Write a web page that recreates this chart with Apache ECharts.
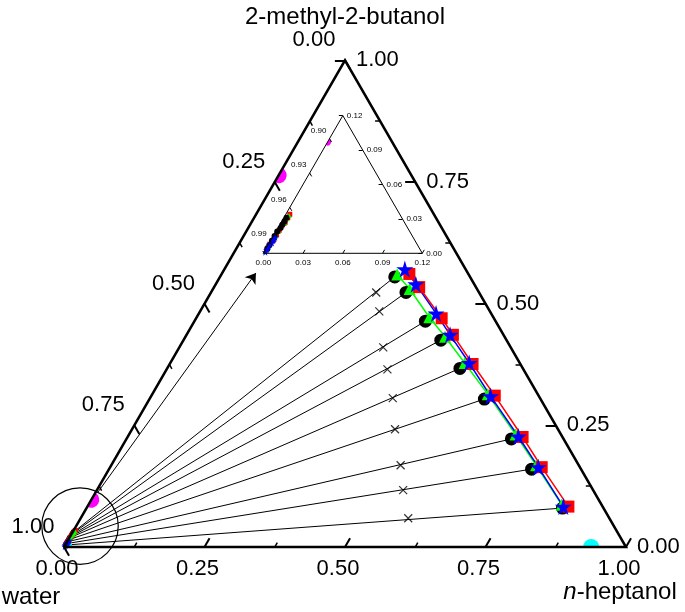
<!DOCTYPE html>
<html>
<head>
<meta charset="utf-8">
<script src="https://cdn.jsdelivr.net/npm/echarts@6/dist/echarts.min.js"></script>
<style>
  html, body { margin: 0; padding: 0; background: #fff; }
  #chart { width: 685px; height: 612px; }
</style>
</head>
<body>
<div id="chart"></div>
<script>
const S = Math.sqrt(3) / 2;
const FONT = '"Liberation Sans", Arial, sans-serif';

// compositions as [n-heptanol, 2-methyl-2-butanol] fractions (water = rest)
// experimental organic phase (black circles)
const orgHept = [0.311, 0.347, 0.411, 0.458, 0.521, 0.596, 0.685, 0.752, 0.847];
const orgAlc  = [0.555, 0.523, 0.464, 0.425, 0.367, 0.304, 0.222, 0.160, 0.080];
// experimental aqueous phase
const aqHept = [0.002, 0.002, 0.002, 0.002, 0.001, 0.001, 0.001, 0.001, 0.001];
const aqAlc  = [0.031, 0.028, 0.025, 0.022, 0.019, 0.015, 0.011, 0.007, 0.004];
// feed points (crosses)
const feedHept = [0.294, 0.319, 0.363, 0.393, 0.432, 0.468, 0.515, 0.545, 0.583];
const feedAlc  = [0.523, 0.484, 0.410, 0.365, 0.306, 0.242, 0.168, 0.117, 0.059];

// model results
const redOrgHept   = [0.334, 0.365, 0.437, 0.474, 0.539, 0.611, 0.703, 0.768, 0.856];
const redOrgAlc    = [0.561, 0.534, 0.470, 0.436, 0.376, 0.311, 0.226, 0.164, 0.083];
const greenOrgHept = [0.313, 0.350, 0.414, 0.462, 0.524, 0.597, 0.688, 0.756, 0.842];
const greenOrgAlc  = [0.560, 0.530, 0.472, 0.432, 0.378, 0.314, 0.231, 0.168, 0.087];
const blueOrgHept  = [0.321, 0.356, 0.422, 0.469, 0.532, 0.604, 0.695, 0.762, 0.847];
const blueOrgAlc   = [0.571, 0.540, 0.480, 0.436, 0.378, 0.310, 0.227, 0.164, 0.083];

const redAqHept   = [0.003, 0.003, 0.003, 0.002, 0.002, 0.002, 0.002, 0.001, 0.001];
const redAqAlc    = [0.034, 0.031, 0.027, 0.024, 0.020, 0.016, 0.012, 0.008, 0.004];
const greenAqHept = [0.003, 0.003, 0.003, 0.002, 0.002, 0.002, 0.001, 0.001, 0.001];
const greenAqAlc  = [0.033, 0.030, 0.026, 0.023, 0.019, 0.015, 0.011, 0.007, 0.003];
const blueAqHept  = [0.002, 0.002, 0.002, 0.002, 0.001, 0.001, 0.001, 0.001, 0.001];
const blueAqAlc   = [0.014, 0.012, 0.011, 0.009, 0.008, 0.006, 0.004, 0.003, 0.001];

// binary solubility points
const magHept = [0, 0];
const magAlc  = [0.097, 0.764];
const cyanHept = [0.938];
const cyanAlc  = [0];
const cyanCornerHept = [0.0005];
const cyanCornerAlc  = [0];

// tick labels
const mainTickVals = [0, 0.25, 0.5, 0.75, 1];
const mainTickLabels = ['0.00', '0.25', '0.50', '0.75', '1.00'];
const mainMinorVals = [0.125, 0.375, 0.625, 0.875];
const insetVals = [0, 0.03, 0.06, 0.09, 0.12];
const insetLabels = ['0.00', '0.03', '0.06', '0.09', '0.12'];
const insetWaterVals = [0.90, 0.93, 0.96, 0.99];
const insetWaterLabels = ['0.90', '0.93', '0.96', '0.99'];

// annotation circle and arrow (ternary coords)
const zoomCircle = { h: 0.007, a: 0.043, r: 0.068 };
const arrowFrom = [0.004, 0.113];
const arrowTo = [0.060, 0.563];

const tern = (h, a) => [h + a / 2, a * S];
const pts = (H, A) => H.map((h, i) => tern(h, A[i]));
const STAR = 'path://M50,0L61,35L98,35L68,57L79,91L50,70L21,91L32,57L2,35L39,35Z';
const CROSS = 'path://M0,0L10,10M10,0L0,10';

function frame(gi, side, width) {
  return {
    type: 'line', xAxisIndex: gi, yAxisIndex: gi, clip: false, silent: true, z: 10,
    data: [tern(0, 0), tern(side, 0), tern(0, side), tern(0, 0)],
    symbol: 'none', lineStyle: { color: '#000', width: width, join: 'miter' }
  };
}

function tickSeries(gi, segs, width) {
  return {
    type: 'lines', coordinateSystem: 'cartesian2d', xAxisIndex: gi, yAxisIndex: gi,
    clip: false, silent: true, z: 10,
    data: segs.map(c => ({ coords: c })),
    lineStyle: { color: '#000', width: width, opacity: 1, curveness: 0 }
  };
}

function labelSeries(gi, items, size) {
  return {
    type: 'custom', xAxisIndex: gi, yAxisIndex: gi, silent: true, z: 20,
    data: items.map(it => it.p),
    renderItem: (params, api) => {
      const it = items[params.dataIndex];
      const c = api.coord(it.p);
      return {
        type: 'text', x: c[0] + it.dx, y: c[1] + it.dy,
        style: { text: it.t, font: size + 'px ' + FONT, fill: '#000', align: it.align, verticalAlign: 'middle' }
      };
    }
  };
}

function halfSeries(gi, H, A, color, r, start, end) {
  return {
    type: 'custom', xAxisIndex: gi, yAxisIndex: gi, silent: true, z: 5,
    data: pts(H, A),
    renderItem: (params, api) => {
      const c = api.coord([api.value(0), api.value(1)]);
      return {
        type: 'sector',
        shape: { cx: c[0], cy: c[1], r0: 0, r: r, startAngle: start, endAngle: end, clockwise: true },
        style: { fill: color }
      };
    }
  };
}

function scatter(gi, H, A, symbol, size, color, z, extra) {
  return Object.assign({
    type: 'scatter', xAxisIndex: gi, yAxisIndex: gi, clip: false, silent: true, z: z,
    data: pts(H, A), symbol: symbol, symbolSize: size,
    itemStyle: { color: color, opacity: 1 }
  }, extra || {});
}

function curve(gi, H, A, color, z) {
  return {
    type: 'line', xAxisIndex: gi, yAxisIndex: gi, clip: false, silent: true, z: z,
    data: pts(H, A), symbol: 'none', lineStyle: { color: color, width: 1.5 }
  };
}

// ---- main ticks
const majorSegs = [], minorSegs = [];
function addTicks(list, vals, len) {
  vals.forEach(v => {
    list.push([tern(v, 0), tern(v, len)]);                      // bottom: n-heptanol
    list.push([tern(1 - v, v), tern(1 - v - len, v)]);          // right: alcohol
    const a = 1 - v;
    list.push([tern(0, a), tern(len, a - len)]);                // left: water
  });
}
addTicks(majorSegs, mainTickVals, 0.018);
addTicks(minorSegs, mainMinorVals, 0.009);

const mainLabels = [];
mainTickVals.forEach((v, i) => {
  mainLabels.push({ p: tern(v, 0), dx: -7, dy: 22, t: mainTickLabels[i], align: 'center' });
  mainLabels.push({ p: tern(1 - v, v), dx: 11, dy: 0, t: mainTickLabels[i], align: 'left' });
  mainLabels.push({ p: tern(0, 1 - v), dx: -31, dy: -20, t: mainTickLabels[i], align: 'center' });
});

// ---- inset ticks
const insetSegs = [];
const iLen = 0.003;
insetVals.forEach(v => {
  insetSegs.push([tern(v, 0), tern(v, iLen)]);
  insetSegs.push([tern(0.12 - v, v), tern(0.12 - v - iLen, v)]);
});
insetWaterVals.forEach(w => {
  const a = 1 - w;
  insetSegs.push([tern(0, a), tern(iLen, a - iLen)]);
});
const insetLabelItems = [];
insetVals.forEach((v, i) => {
  insetLabelItems.push({ p: tern(v, 0), dx: 0, dy: 9, t: insetLabels[i], align: 'center' });
  insetLabelItems.push({ p: tern(0.12 - v, v), dx: 4, dy: 0, t: insetLabels[i], align: 'left' });
});
insetWaterVals.forEach((w, i) => {
  insetLabelItems.push({ p: tern(0, 1 - w), dx: -11, dy: -8, t: insetWaterLabels[i], align: 'center' });
});

const tieSegs = orgHept.map((h, i) => [tern(aqHept[i], aqAlc[i]), tern(h, orgAlc[i])]);

const series = [
  // main triangle
  frame(0, 1, 2.5),
  tickSeries(0, majorSegs, 2),
  tickSeries(0, minorSegs, 1.5),
  labelSeries(0, mainLabels, 22),
  // tie lines
  {
    type: 'lines', coordinateSystem: 'cartesian2d', xAxisIndex: 0, yAxisIndex: 0,
    clip: false, silent: true, z: 2,
    data: tieSegs.map(c => ({ coords: c })),
    lineStyle: { color: '#000', width: 1, opacity: 1 }
  },
  // zoom circle
  {
    type: 'custom', xAxisIndex: 0, yAxisIndex: 0, silent: true, z: 3,
    data: [tern(zoomCircle.h, zoomCircle.a)],
    renderItem: (params, api) => {
      const c = api.coord([api.value(0), api.value(1)]);
      const r = api.size([zoomCircle.r, 0])[0];
      return { type: 'circle', shape: { cx: c[0], cy: c[1], r: r }, style: { fill: 'none', stroke: '#000', lineWidth: 1.2 } };
    }
  },
  // arrow to inset
  {
    type: 'lines', coordinateSystem: 'cartesian2d', xAxisIndex: 0, yAxisIndex: 0,
    clip: false, silent: true, z: 3,
    symbol: ['none', 'arrow'], symbolSize: [0, 10],
    data: [{ coords: [tern(arrowFrom[0], arrowFrom[1]), tern(arrowTo[0], arrowTo[1])] }],
    lineStyle: { color: '#000', width: 1, opacity: 1 }
  },
  // model curves
  curve(0, greenOrgHept, greenOrgAlc, '#00ff00', 4),
  curve(0, blueOrgHept, blueOrgAlc, '#0000ff', 4),
  curve(0, redOrgHept, redOrgAlc, '#ff0000', 4),
  curve(0, redAqHept, redAqAlc, '#ff0000', 4),
  curve(0, greenAqHept, greenAqAlc, '#00ff00', 4),
  curve(0, blueAqHept, blueAqAlc, '#0000ff', 4),
  // markers
  scatter(0, feedHept, feedAlc, CROSS, 8, 'transparent', 6, { itemStyle: { color: 'transparent', borderColor: '#000', borderWidth: 1.2 } }),
  scatter(0, orgHept, orgAlc, 'circle', 13, '#000', 6),
  scatter(0, greenOrgHept, greenOrgAlc, 'triangle', 12, '#00ff00', 7),
  scatter(0, redOrgHept, redOrgAlc, 'rect', 12, '#ff0000', 7),
  scatter(0, blueOrgHept, blueOrgAlc, STAR, 17, '#0000ff', 8),
  scatter(0, aqHept, aqAlc, 'circle', 6, '#000', 6),
  scatter(0, redAqHept, redAqAlc, 'rect', 5, '#ff0000', 7),
  scatter(0, greenAqHept, greenAqAlc, 'triangle', 5, '#00ff00', 7),
  scatter(0, blueAqHept, blueAqAlc, STAR, 7, '#0000ff', 8),
  halfSeries(0, magHept, magAlc, '#ff00ff', 8, -Math.PI / 3, 2 * Math.PI / 3),
  halfSeries(0, cyanHept, cyanAlc, '#00ffff', 8, Math.PI, 2 * Math.PI),
  halfSeries(0, cyanCornerHept, cyanCornerAlc, '#00ffff', 8, -Math.PI / 3, 0),

  // inset triangle
  frame(1, 0.12, 1),
  tickSeries(1, insetSegs, 1),
  labelSeries(1, insetLabelItems, 8),
  curve(1, redAqHept, redAqAlc, '#ff0000', 4),
  curve(1, greenAqHept, greenAqAlc, '#00ff00', 4),
  curve(1, blueAqHept, blueAqAlc, '#0000ff', 4),
  scatter(1, redAqHept, redAqAlc, 'rect', 5, '#ff0000', 6),
  scatter(1, greenAqHept, greenAqAlc, 'triangle', 5, '#00ff00', 6),
  scatter(1, aqHept, aqAlc, 'circle', 6, '#000', 7),
  scatter(1, blueAqHept, blueAqAlc, STAR, 7, '#0000ff', 8),
  halfSeries(1, magHept.slice(0, 1), magAlc.slice(0, 1), '#ff00ff', 3.5, -Math.PI / 3, 2 * Math.PI / 3),
  halfSeries(1, cyanCornerHept, cyanCornerAlc, '#00ffff', 4, -Math.PI / 3, 0)
];

const chart = echarts.init(document.getElementById('chart'));
chart.setOption({
  animation: false,
  backgroundColor: '#fff',
  grid: [
    { left: 64, top: 60, width: 562, height: 487 },
    { left: 263.3, top: 115.6, width: 159, height: 0.12 * S * 1325 }
  ],
  xAxis: [
    { gridIndex: 0, type: 'value', min: 0, max: 1, show: false },
    { gridIndex: 1, type: 'value', min: 0, max: 0.12, show: false }
  ],
  yAxis: [
    { gridIndex: 0, type: 'value', min: 0, max: 487 / 562, show: false },
    { gridIndex: 1, type: 'value', min: 0, max: 0.12 * S, show: false }
  ],
  graphic: [
    { type: 'text', x: 345, y: 17, style: { text: '2-methyl-2-butanol', font: '24px ' + FONT, fill: '#000', align: 'center', verticalAlign: 'middle' } },
    { type: 'text', x: 31, y: 597, style: { text: 'water', font: '24px ' + FONT, fill: '#000', align: 'center', verticalAlign: 'middle' } },
    {
      type: 'text', x: 620, y: 592,
      style: {
        text: '{i|n}-heptanol', fontSize: 24, fontFamily: FONT, fill: '#000', align: 'center', verticalAlign: 'middle',
        rich: { i: { fontStyle: 'italic', fontSize: 24, fontFamily: FONT, fill: '#000' } }
      }
    }
  ],
  series: series
});
</script>
</body>
</html>
